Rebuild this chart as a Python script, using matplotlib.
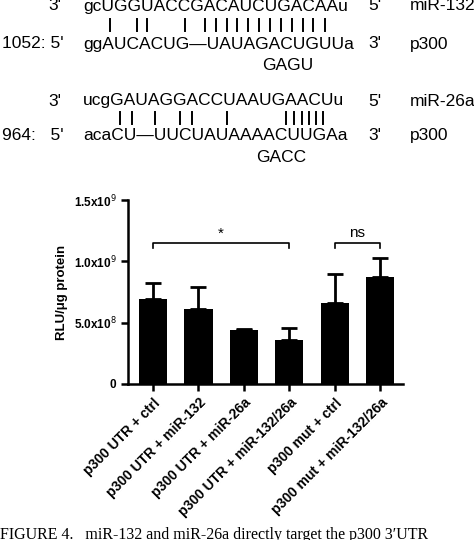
import matplotlib
matplotlib.use("Agg")
import matplotlib.pyplot as plt
from matplotlib.lines import Line2D

categories = ["p300 UTR + ctrl", "p300 UTR + miR-132", "p300 UTR + miR-26a",
              "p300 UTR + miR-132/26a", "p300 mut + ctrl", "p300 mut + miR-132/26a"]
means = [6.9e8, 6.1e8, 4.4e8, 3.6e8, 6.6e8, 8.7e8]
errs = [1.3e8, 1.8e8, 0.1e8, 1.0e8, 2.4e8, 1.6e8]
yticks = [0, 5e8, 1e9, 1.5e9]
yticklabels = ["0", r"5.0x10$^{8}$", r"1.0x10$^{9}$", r"1.5x10$^{9}$"]
pairs1 = [110, 137, 147, 185, 205, 216, 227, 237, 248, 259, 270, 281, 292, 303, 313, 325]
pairs2 = [120, 132, 155, 180, 192, 227, 286, 294, 302, 309, 316, 323]

W, H = 474, 540
fig = plt.figure(figsize=(4.74, 5.40), dpi=100)
fig.patch.set_facecolor("white")

def t(x, y, s, **kw):
    kw.setdefault("fontsize", 12.5)
    fig.text(x / W, 1 - y / H, s, va="center", ha="left", family="Liberation Sans", **kw)

def bars(xs, y):
    for xp in xs:
        fig.add_artist(Line2D([xp / W, xp / W], [1 - (y - 6) / H, 1 - (y + 6) / H],
                              color="black", lw=1.4))

t(48, 6, "3'")
t(83, 6, "gcUGGUACCGACAUCUGACAAu")
t(368, 6, "5'")
t(410, 6, "miR-132")
bars(pairs1, 25)
t(2, 44, "1052: 5'")
t(83, 44, "ggAUCACUG\u2014UAUAGACUGUUa")
t(368, 44, "3'")
t(410, 44, "p300")
t(262, 66, "GAGU")
t(48, 101, "3'")
t(83, 101, "ucgGAUAGGACCUAAUGAACUu")
t(368, 101, "5'")
t(410, 101, "miR-26a")
bars(pairs2, 118)
t(2, 136, "964:   5'")
t(83, 136, "acaCU\u2014UUCUAUAAAACUUGAa")
t(368, 136, "3'")
t(410, 136, "p300")
t(256, 158, "GACC")

ax = fig.add_axes([128 / W, 1 - 384 / H, (403 - 128) / W, (384 - 200) / H])
x = list(range(len(categories)))
ax.bar(x, means, width=0.62, color="black")
ax.errorbar(x, means, yerr=[[0] * len(errs), errs], fmt="none", ecolor="black",
            elinewidth=2, capsize=6, capthick=2)
ax.set_xlim(-0.55, 5.5)
ax.set_ylim(0, 1.5e9)
ax.set_yticks(yticks)
ax.set_yticklabels(yticklabels, fontsize=8.5, fontweight="bold", family="Liberation Sans")
ax.set_xticks(x)
ax.set_xticklabels(categories, rotation=45, ha="right", rotation_mode="anchor",
                   fontsize=10, fontweight="bold", family="Liberation Sans")
ax.set_ylabel("RLU/\u03bcg protein", fontsize=9.5, fontweight="bold", family="Liberation Sans")
for s in ["top", "right"]:
    ax.spines[s].set_visible(False)
for s in ["left", "bottom"]:
    ax.spines[s].set_linewidth(1.8)
ax.tick_params(width=1.8, length=5)

def bracket(x0, x1, y, label):
    h = 0.04e9
    ax.plot([x0, x0, x1, x1], [y - h, y, y, y - h], color="black", lw=1.2, clip_on=False)
    ax.text((x0 + x1) / 2, y + 0.02e9, label, ha="center", va="bottom", fontsize=11,
            family="Liberation Sans")

bracket(0, 3, 1.15e9, "*")
bracket(4, 5, 1.15e9, "ns")

fig.text(0.0, 1 - 535 / H, "FIGURE 4.   miR-132 and miR-26a directly target the p300 3\u2032UTR",
         family="Liberation Serif", fontsize=11.5, va="center", ha="left")

fig.savefig("out.png", dpi=100)
